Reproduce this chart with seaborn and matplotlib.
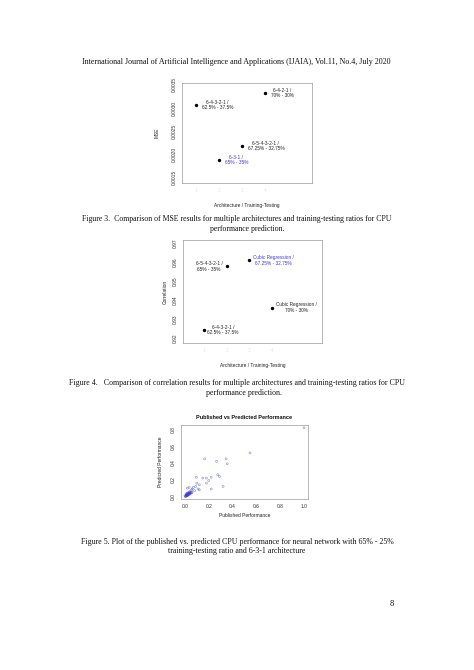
import numpy as np
import pandas as pd
import seaborn as sns
import matplotlib.pyplot as plt

# figure 3 - MSE for each architecture / split
mse_labels = ["6-4-3-2-1 /\n62.5% - 37.5%", "6-3-1 /\n65% - 35%",
              "6-5-4-3-2-1 /\n67.25% - 32.75%", "6-4-2-1 /\n70% - 30%"]
mse_x = [1, 2, 3, 4]
mse_vals = [0.00307, 0.00189, 0.00219, 0.00332]
mse_ticks = [0.0015, 0.0020, 0.0025, 0.0030, 0.0035]

# figure 4 - correlation for each architecture / split
corr_labels = ["6-4-3-2-1 /\n62.5% - 37.5%", "6-5-4-3-2-1 /\n65% - 35%",
               "Cubic Regression /\n67.25% - 32.75%", "Cubic Regression /\n70% - 30%"]
corr_x = [1, 2, 3, 4]
corr_vals = [0.9242, 0.9577, 0.9609, 0.9359]
corr_ticks = [0.92, 0.93, 0.94, 0.95, 0.96, 0.97]

# figure 5 - published vs predicted (normalised)
published = [1.0, 0.546, 0.165, 0.265, 0.345, 0.355, 0.095, 0.15, 0.18, 0.22,
             0.275, 0.29, 0.18, 0.2, 0.22, 0.32, 0.1, 0.12, 0.07, 0.11,
             0.12, 0.056, 0.042, 0.034, 0.06, 0.02, 0.04, 0.06, 0.08, 0.09,
             0.0, 0.005, 0.01, 0.012, 0.015, 0.018, 0.02, 0.022, 0.025, 0.028,
             0.03, 0.032, 0.035, 0.038, 0.04, 0.045, 0.05, 0.003, 0.008, 0.013,
             0.017, 0.024, 0.027, 0.033, 0.043, 0.055, 0.01, 0.02, 0.03, 0.015]
predicted = [0.82, 0.52, 0.45, 0.42, 0.45, 0.39, 0.23, 0.22, 0.22, 0.23,
             0.26, 0.24, 0.16, 0.19, 0.09, 0.12, 0.16, 0.14, 0.11, 0.09,
             0.08, 0.08, 0.05, 0.11, 0.09, 0.10, 0.06, 0.05, 0.07, 0.12,
             0.01, 0.005, 0.012, 0.02, 0.015, 0.025, 0.018, 0.03, 0.022, 0.035,
             0.028, 0.04, 0.03, 0.045, 0.035, 0.04, 0.05, 0.0, 0.002, 0.008,
             0.01, 0.012, 0.02, 0.025, 0.03, 0.045, 0.03, 0.04, 0.05, 0.035]

W, H = 474, 670
BLUE = "#3a3ad6"
GREY = "#9a9a9a"
FAINT = "#e4e4e4"

sns.set_theme(style="white")
plt.rcParams["font.family"] = ["Liberation Sans", "DejaVu Sans"]

fig = plt.figure(figsize=(W / 100, H / 100), dpi=100)
fig.patch.set_facecolor("white")


def px_axes(x0, y0, x1, y1):
    # axes from page pixel box (top-left origin)
    return fig.add_axes([x0 / W, 1 - y1 / H, (x1 - x0) / W, (y1 - y0) / H])


def page_text(x, y, s, width=None, size=5.4, **kw):
    t = fig.text(x / W, 1 - y / H, s, fontsize=size, family="Liberation Serif",
                 va="center", color="#111111", **kw)
    if width:
        r = fig.canvas.get_renderer()
        w = t.get_window_extent(r).width
        t.set_fontsize(size * width / w)
    return t


def r_style(ax, faint_x=False):
    for sp in ax.spines.values():
        sp.set_color(GREY)
        sp.set_linewidth(0.5)
    ax.tick_params(axis="both", length=2, width=0.4, color=GREY, labelsize=3.5,
                   pad=1.5, labelcolor="#333333")
    if faint_x:
        ax.tick_params(axis="x", labelcolor=FAINT)
    for lab in ax.get_yticklabels():
        lab.set_rotation(90)
        lab.set_va("center")


# ---- figure 3
ax3 = px_axes(182, 83, 312, 183)
df3 = pd.DataFrame({"x": mse_x, "mse": mse_vals})
sns.scatterplot(data=df3, x="x", y="mse", ax=ax3, color="black", s=6,
                linewidth=0, legend=False)
ax3.set_xlim(0.39, 6.04)
ax3.set_ylim(0.00139, 0.00354)
ax3.set_yticks(mse_ticks)
ax3.set_yticklabels([f"{v:.4f}" for v in mse_ticks])
ax3.set_xticks(mse_x)
ax3.set_xticklabels([str(v) for v in mse_x])
ax3.set_xlabel("Architecture / Training-Testing", fontsize=3.5, labelpad=7, color="#222222")
ax3.set_ylabel("MSE", fontsize=3.5, labelpad=9, color="#222222")
r_style(ax3, faint_x=True)
for xv, yv, lab in zip(mse_x, mse_vals, mse_labels):
    col = BLUE if lab.startswith("6-3-1") else "#222222"
    ax3.annotate(lab, (xv, yv), xytext=(4, 0), textcoords="offset points",
                 ha="left", va="center", multialignment="center",
                 fontsize=3.4, color=col, linespacing=1.1)

cap3 = page_text(237, 219, "Figure 3.  Comparison of MSE results for multiple architectures "
                 "and training-testing ratios for CPU", width=311, ha="center")
page_text(247, 229, "performance prediction.", size=cap3.get_fontsize(), ha="center")

# ---- figure 4
ax4 = px_axes(183, 240, 322, 343)
df4 = pd.DataFrame({"x": corr_x, "corr": corr_vals})
sns.scatterplot(data=df4, x="x", y="corr", ax=ax4, color="black", s=6,
                linewidth=0, legend=False)
ax4.set_xlim(0.075, 6.2)
ax4.set_ylim(0.9172, 0.9717)
ax4.set_yticks(corr_ticks)
ax4.set_yticklabels([f"{v:.2f}" for v in corr_ticks])
ax4.set_xticks(corr_x)
ax4.set_xticklabels([str(v) for v in corr_x])
ax4.set_xlabel("Architecture / Training-Testing", fontsize=3.5, labelpad=7, color="#222222")
ax4.set_ylabel("Correlation", fontsize=3.5, labelpad=4, color="#222222")
r_style(ax4, faint_x=True)
for xv, yv, lab in zip(corr_x, corr_vals, corr_labels):
    col = BLUE if "67.25" in lab else "#222222"
    if lab.startswith("6-5"):
        off, ha = (-3, 0), "right"
    else:
        off, ha = (2.5, 0), "left"
    ax4.annotate(lab, (xv, yv), xytext=off, textcoords="offset points",
                 ha=ha, va="center", multialignment="center",
                 fontsize=3.4, color=col, linespacing=1.1)

cap4 = page_text(237, 383, "Figure 4.   Comparison of correlation results for multiple "
                 "architectures and training-testing ratios for CPU", width=338, ha="center")
page_text(244, 393, "performance prediction.", size=cap4.get_fontsize(), ha="center")

# ---- figure 5
ax5 = px_axes(180.7, 425, 308.3, 499.3)
df5 = pd.DataFrame({"published": published, "predicted": predicted})
sns.scatterplot(data=df5, x="published", y="predicted", ax=ax5, marker="o",
                s=2, facecolor="none", edgecolor=BLUE, linewidth=0.45,
                alpha=0.55, legend=False)
ax5.set_xlim(-0.036, 1.036)
ax5.set_ylim(-0.033, 0.853)
ax5.set_xticks([0.0, 0.2, 0.4, 0.6, 0.8, 1.0])
ax5.set_xticklabels(["0.0", "0.2", "0.4", "0.6", "0.8", "1.0"])
ax5.set_yticks([0.0, 0.2, 0.4, 0.6, 0.8])
ax5.set_yticklabels(["0.0", "0.2", "0.4", "0.6", "0.8"])
ax5.set_xlabel("Published Performance", fontsize=3.5, labelpad=3, color="#222222")
ax5.set_ylabel("Predicted Performance", fontsize=3.5, labelpad=6, color="#222222")
ax5.set_title("Published vs Predicted Performance", fontsize=4, fontweight="bold",
              pad=4, color="#111111")
r_style(ax5)

cap5 = page_text(237, 542, "Figure 5. Plot of the published vs. predicted CPU performance for "
                 "neural network with 65% - 25%", width=310, ha="center")
page_text(237, 551, "training-testing ratio and 6-3-1 architecture",
          size=cap5.get_fontsize(), ha="center")

# ---- page header / footer
page_text(236, 62, "International Journal of Artificial Intelligence and Applications "
          "(IJAIA), Vol.11, No.4, July 2020", width=309, ha="center")
page_text(392, 604, "8", size=6, ha="center")

fig.savefig("out.png", dpi=100, facecolor="white")
